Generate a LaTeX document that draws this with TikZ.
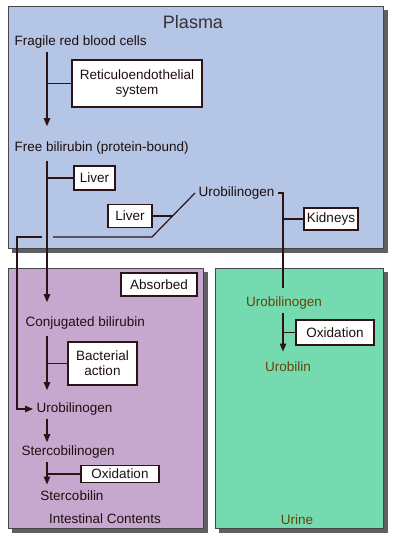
\documentclass[tikz,border=0pt]{standalone}
\usepackage{fontspec}
\setmainfont{Liberation Sans}
\usetikzlibrary{arrows.meta}
\definecolor{plasmabg}{RGB}{181,197,230}
\definecolor{gutbg}{RGB}{198,168,206}
\definecolor{urinebg}{RGB}{118,218,176}
\definecolor{shadowc}{RGB}{95,95,100}
\definecolor{edgec}{RGB}{70,70,75}
\definecolor{linec}{RGB}{45,20,20}
\definecolor{txtdark}{RGB}{30,15,15}
\definecolor{txturine}{RGB}{100,68,8}
\begin{document}
\begin{tikzpicture}[x=1pt,y=-1pt,
  every node/.style={font=\fontsize{13.5}{15}\selectfont,text=txtdark},
  lbox/.style={draw=linec,fill=white,line width=1.4pt,inner sep=0pt,align=center},
  wire/.style={draw=linec,line width=1.2pt},
  arr/.style={wire,-{Triangle[length=8pt,width=6.5pt]}}]
  % page and panels
  \fill[white] (0,0) rectangle (400,540);
  \useasboundingbox (0,0) rectangle (400,540);
  \fill[shadowc] (12,10) rectangle (388,253);
  \filldraw[fill=plasmabg,draw=edgec] (8,6) rectangle (383,248);
  \fill[shadowc] (12,272) rectangle (208,533);
  \filldraw[fill=gutbg,draw=edgec] (8,268) rectangle (203,528);
  \fill[shadowc] (219,272) rectangle (388,533);
  \filldraw[fill=urinebg,draw=edgec] (215,268) rectangle (383,528);
  \coordinate (spA) at (47,0);
  \coordinate (spB) at (283,0);
  \coordinate (dg) at (152,237);
  \coordinate (cn) at (17,237);
  % plasma
  \node[font=\fontsize{18}{20}\selectfont,text=black!80] (ttl) at (193,22) {Plasma};
  \node[anchor=west] (frbc) at (11,42) {Fragile red blood cells};
  \node[lbox,minimum width=130pt,minimum height=47pt] (res) at (137,83.5) {Reticuloendothelial\\system};
  \node[anchor=west] (fbil) at (11,148) {Free bilirubin (protein-bound)};
  \node[lbox,minimum width=41pt,minimum height=24pt] (liv1) at (94.5,178) {Liver};
  \node[anchor=west] (uro1) at (195,193) {Urobilinogen};
  \node[lbox,minimum width=44pt,minimum height=23pt] (liv2) at (130,216) {Liver};
  \node[lbox,minimum width=54pt,minimum height=22pt] (kid) at (331,219) {Kidneys};
  % intestinal contents
  \node[lbox,minimum width=76pt,minimum height=23pt] (abs) at (159,284.5) {Absorbed};
  \node[anchor=west] (conj) at (22,323) {Conjugated bilirubin};
  \node[lbox,minimum width=69pt,minimum height=43pt] (bact) at (102.5,363.5) {Bacterial\\action};
  \node[anchor=west] (uro2) at (33,409) {Urobilinogen};
  \node[anchor=west] (sterg) at (18,452) {Stercobilinogen};
  \node[lbox,minimum width=78pt,minimum height=17pt] (ox1) at (120,474) {Oxidation};
  \node (sterc) at (72,496) {Stercobilin};
  \node (gut) at (105,519) {Intestinal Contents};
  % urine
  \node[text=txturine] (uro3) at (284,303) {Urobilinogen};
  \node[lbox,minimum width=78pt,minimum height=25pt] (ox2) at (335,332.5) {Oxidation};
  \node[text=txturine] (urob) at (288,367) {Urobilin};
  \node[text=txturine] (urine) at (297,520) {Urine};
  % connectors
  \draw[arr,shorten >=12pt] (frbc.south -| spA) -- (fbil.north -| spA);
  \draw[wire] (res.west) -- (res.west -| spA);
  \draw[arr,shorten >=11pt] ([yshift=-3pt]fbil.south -| spA) -- (conj.north -| spA);
  \draw[wire] (liv1.west) -- (liv1.west -| spA);
  \draw[wire] (uro1.west) -- (dg) -- ([xshift=6pt]dg -| spA);
  \draw[arr] ([xshift=-5pt]dg -| spA) -- (cn) |- (uro2.west);
  \draw[wire] (liv2.east) -- ++(20,0);
  \draw[wire] (uro1.east) -| ([yshift=5pt]uro3.north -| spB);
  \draw[wire] (kid.west) -- (kid.west -| spB);
  \draw[arr,shorten >=7pt] (uro3.south -| spB) -- (urob.north -| spB);
  \draw[wire] (ox2.west) -- (ox2.west -| spB);
  \draw[arr,shorten >=9pt] ([yshift=-3pt]conj.south -| spA) -- (uro2.north -| spA);
  \draw[wire] (bact.west) -- (bact.west -| spA);
  \draw[arr] (uro2.south -| spA) -- (sterg.north -| spA);
  \draw[arr,shorten >=3pt] (sterg.south -| spA) -- (sterc.north -| spA);
  \draw[wire] (ox1.west) -- (ox1.west -| spA);
\end{tikzpicture}
\end{document}
